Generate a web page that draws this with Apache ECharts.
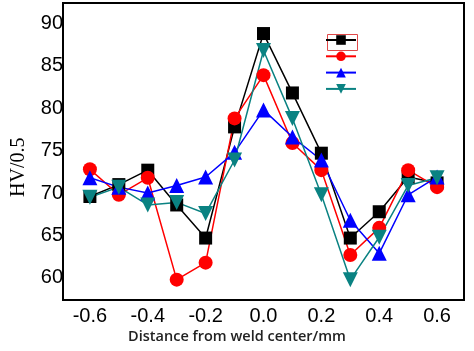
<!DOCTYPE html>
<html>
<head>
<meta charset="utf-8">
<script src="https://cdn.jsdelivr.net/npm/echarts@6/dist/echarts.min.js"></script>
<style>
	html, body { margin: 0; padding: 0; background: #fff; }
	#chart { width: 474px; height: 351px; }
</style>
</head>
<body>
<div id="chart"></div>
<script>
	// distance from weld center (mm)
	var distance = [-0.6, -0.5, -0.4, -0.3, -0.2, -0.1, 0.0, 0.1, 0.2, 0.3, 0.4, 0.5, 0.6];
	var hvSquare = [69.6, 71.0, 72.7, 68.6, 64.7, 77.8, 88.8, 81.8, 74.7, 64.7, 67.8, 71.9, 71.2];
	var hvCircle = [72.8, 69.8, 71.8, 59.8, 61.8, 78.8, 83.9, 75.9, 72.7, 62.7, 65.9, 72.7, 70.7];
	var hvUp = [71.8, 70.7, 70.0, 70.9, 71.9, 74.8, 79.8, 76.6, 73.9, 66.8, 62.9, 69.8, 71.9];
	var hvDown = [69.5, 70.7, 68.6, 68.9, 67.6, 73.9, 86.8, 78.8, 69.8, 59.8, 64.8, 70.9, 71.8];
	var xTicks = [-0.6, -0.4, -0.2, 0.0, 0.2, 0.4, 0.6];
	var yTicks = [60, 65, 70, 75, 80, 85, 90];

	function pairs(vals) {
		return distance.map(function (d, i) { return [d, vals[i]]; });
	}

	function mkSeries(name, vals, color, symbol, size, rotate) {
		return {
			name: name,
			type: 'line',
			data: pairs(vals),
			symbol: symbol,
			symbolSize: size,
			symbolRotate: rotate || 0,
			showAllSymbol: true,
			animation: false,
			itemStyle: { color: color },
			lineStyle: { color: color, width: 1.5 }
		};
	}

	var chart = echarts.init(document.getElementById('chart'));
	chart.setOption({
		backgroundColor: '#fff',
		grid: { left: 63, right: 10, top: 3, bottom: 51, show: true, borderColor: '#000', borderWidth: 2, backgroundColor: 'transparent' },
		legend: {
			left: 325, top: 34, orient: 'vertical', padding: 0,
			itemWidth: 30, itemHeight: 12, itemGap: 5.5,
			formatter: function () { return ''; },
			selectedMode: false,
			data: ['s1', 's2', 's3', 's4']
		},
		xAxis: {
			type: 'value', min: -0.693, max: 0.693,
			axisLine: { show: false },
			axisTick: { show: false },
			splitLine: { show: false },
			axisLabel: {
				customValues: xTicks, margin: 6,
				fontFamily: 'Liberation Sans', fontSize: 20, color: '#000',
				formatter: function (v) { return v.toFixed(1); }
			}
		},
		yAxis: {
			type: 'value', min: 57.4, max: 92.4,
			axisLine: { show: false },
			axisTick: { show: false },
			splitLine: { show: false },
			axisLabel: {
				customValues: yTicks, margin: 0,
				fontFamily: 'Liberation Sans', fontSize: 20, color: '#000'
			}
		},
		graphic: [
			{ type: 'rect', left: 325, top: 32, shape: { width: 30, height: 16 }, style: { fill: 'none', stroke: '#e04848', lineWidth: 1 } },
			{ type: 'text', left: 'center', x: -27, top: 329, style: { text: 'Distance from weld center/mm', font: '600 14.5px "Open Sans"', fill: '#222' } },
			{ type: 'text', x: 9, y: 197, rotation: Math.PI / 2, style: { text: 'HV/0.5', font: '20px "Liberation Serif"', fill: '#000' } }
		],
		series: [
			mkSeries('s1', hvSquare, '#000000', 'rect', 13),
			mkSeries('s2', hvCircle, '#ff0000', 'circle', 14),
			mkSeries('s3', hvUp, '#0000ff', 'triangle', 15),
			mkSeries('s4', hvDown, '#0a8282', 'triangle', 15, 180)
		]
	});
</script>
</body>
</html>
